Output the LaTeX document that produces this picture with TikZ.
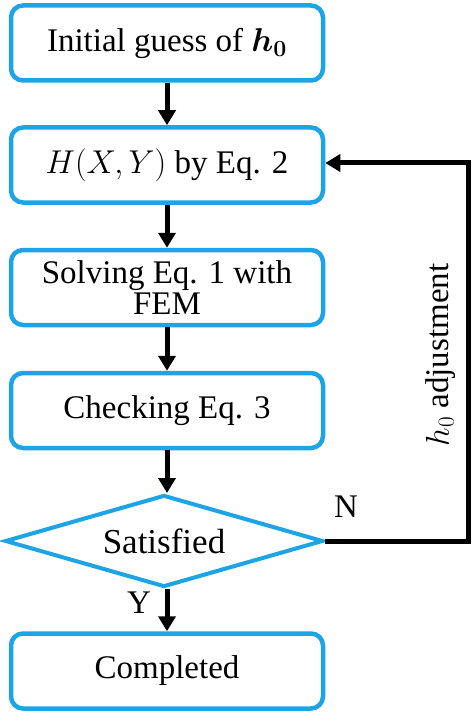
\RequirePackage{fix-cm}
\documentclass[tikz,border=0pt]{standalone}
\usepackage{fontspec}
\setmainfont{Liberation Serif}
\usetikzlibrary{arrows.meta,shapes.geometric}
\definecolor{boxblue}{RGB}{29,164,230}
\tikzset{
  stepbox/.style={draw=boxblue,line width=4.5pt,rounded corners=12pt,minimum width=312pt,minimum height=75pt,inner sep=0pt,align=center,font=\fontsize{33}{34}\selectfont},
  decide/.style={draw=boxblue,line width=4pt,diamond,aspect=3.5,minimum width=318pt,minimum height=92pt,inner sep=0pt,font=\fontsize{35}{36}\selectfont},
  flow/.style={line width=5pt,-{Triangle[width=17pt,length=15pt]}},
  lbl/.style={font=\fontsize{33}{34}\selectfont,inner sep=0pt}
}
\begin{document}
\begin{tikzpicture}[x=1pt,y=-1pt]
\useasboundingbox (0,0) rectangle (474,714);
\node[stepbox] (a) at (167,43) {Initial guess of {\boldmath$h_0$}};
\node[stepbox] (b) at (167,165) {$H(X,Y)$ by Eq. 2};
\node[stepbox] (c) at (167,287.5) {Solving Eq. 1 with\\[-3pt]FEM};
\node[stepbox] (d) at (167,410.5) {Checking Eq. 3};
\node[decide] (e) at (164,541) {Satisfied};
\node[stepbox] (f) at (167,671) {Completed};
\coordinate (r1) at (468,541);
\coordinate (r2) at (468,163);
\draw[flow] (a.south) -- (b.north);
\draw[flow] (b.south) -- (c.north);
\draw[flow] (c.south) -- (d.north);
\draw[flow] (d.south) -- (d.south |- e.north);
\draw[flow] (f.north |- e.south) -- (f.north);
\draw[flow] (e.east) -- (r1) -- (r2) -- (b.east |- r2);
\node[lbl] (n) at (346,507) {N};
\node[lbl] (y) at (139,603) {Y};
\node[lbl,rotate=90] (adj) at (441,355) {$h_0$ adjustment};
\end{tikzpicture}
\end{document}
